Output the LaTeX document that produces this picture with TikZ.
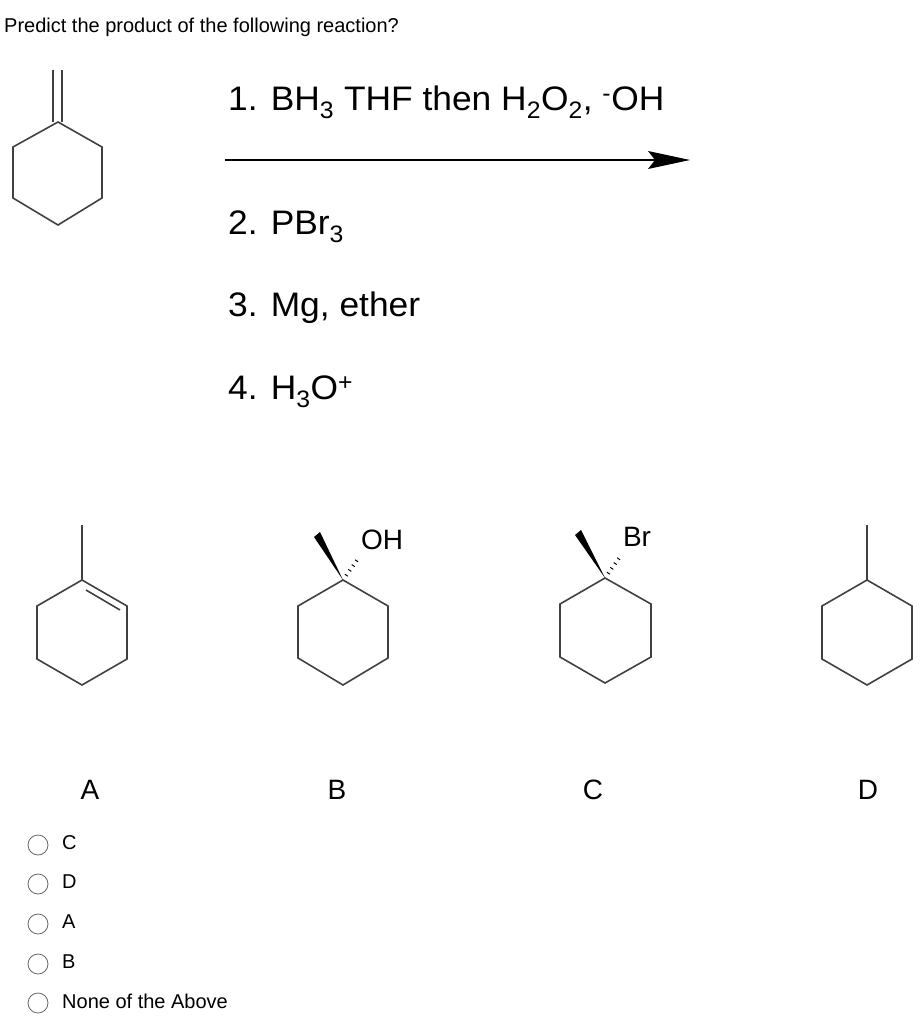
\documentclass[tikz,border=0pt]{standalone}
\usepackage{fontspec}
\setmainfont{Liberation Sans}
\usetikzlibrary{calc}
\begin{document}
\begin{tikzpicture}[x=1pt,y=-1pt,
  bond/.style={line width=1.6pt,draw=black!75},
  rxn/.style={font=\fontsize{34}{36}\selectfont,anchor=west,inner sep=0,xscale=1.04},
  lab/.style={font=\fontsize{28}{30}\selectfont,inner sep=0},
  opt/.style={font=\fontsize{20}{22}\selectfont,anchor=west,inner sep=0},
  radio/.style={circle,draw=black!60,line width=0.8pt,minimum size=20pt,inner sep=0}]
\useasboundingbox (0,0) rectangle (919,1024);
\node[opt,anchor=west] (title) at (4,27) {Predict the product of the following reaction?};
% starting material
\draw[bond] (58,122)--(102,147)--(102,198)--(58,225)--(13,198)--(13,147)--cycle;
\draw[bond] (53,122)--(53,70) (62,122)--(62,70);
% arrow
\coordinate (as) at (225,160); \coordinate (ae) at (690,160);
\draw[line width=2.6pt] (as)--(660,160);
\fill (ae)--(648,151)--(655,160)--(648,169)--cycle;
\node[rxn] (r1) at (228,102) {1. BH\textsubscript{3} THF then H\textsubscript{2}O\textsubscript{2}, \textsuperscript{-}OH};
\node[rxn] (r2) at (228,227) {2. PBr\textsubscript{3}};
\node[rxn] (r3) at (228,308) {3. Mg, ether};
\node[rxn] (r4) at (228,392) {4. H\textsubscript{3}O\textsuperscript{+}};
% A
\draw[bond] (82,580)--(127,606)--(127,659)--(82,685)--(37,659)--(37,606)--cycle;
\draw[bond] (82,580)--(82,525);
\draw[bond] (86,590)--(120,610);
% B
\draw[bond] (343,580)--(388,606)--(388,658)--(343,685)--(298,658)--(298,606)--cycle;
\fill (343,580)--(314,537)--(320,532)--cycle;
\foreach \t in {0.2,0.4,0.6,0.8}{\draw[line width=1pt] ($(343,580)!\t!(360,556)+(-1.5,-1)$)--($(343,580)!\t!(360,556)+(1.5,1)$);}
\node[lab] (oh) at (382,540) {OH};
% C
\draw[bond] (605,578)--(651,604)--(651,657)--(605,683)--(560,657)--(560,604)--cycle;
\fill (605,578)--(575,535)--(581,530)--cycle;
\foreach \t in {0.2,0.4,0.6,0.8}{\draw[line width=1pt] ($(605,578)!\t!(622,554)+(-1.5,-1)$)--($(605,578)!\t!(622,554)+(1.5,1)$);}
\node[lab] (br) at (637,537) {Br};
% D
\draw[bond] (867,580)--(912,606)--(912,659)--(867,685)--(822,659)--(822,606)--cycle;
\draw[bond] (867,580)--(867,525);
% labels
\node[lab] (la) at (90,790) {A};
\node[lab] (lb) at (337,790) {B};
\node[lab] (lc) at (593,790) {C};
\node[lab] (ld) at (868,790) {D};
% options
\foreach \y/\t [count=\i] in {845/C,884/D,924/A,964/B,1003/None of the Above}{
  \node[radio] (c\i) at (38,\y) {};
  \node[opt] (o\i) at (62,\y-2) {\t};
}
\end{tikzpicture}
\end{document}
